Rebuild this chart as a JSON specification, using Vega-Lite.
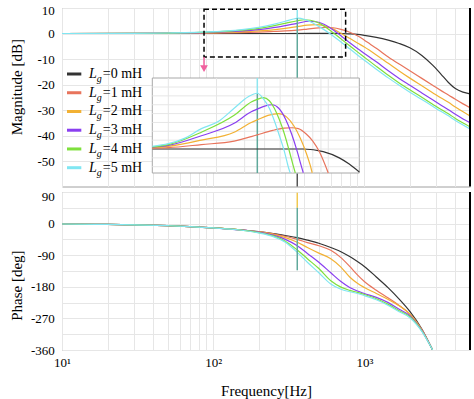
{
"$schema": "https://vega.github.io/schema/vega-lite/v6.json",
"padding": {"left": 8, "top": 4, "right": 2, "bottom": 0},
"config": {
  "font": "Liberation Serif",
  "view": {"stroke": "#a0a0a0"},
  "axis": {"labelFont": "Liberation Serif", "titleFont": "Liberation Serif", "labelFontSize": 13, "titleFontSize": 15, "labelColor": "#000", "titleColor": "#000", "titleFontWeight": "normal", "gridColor": "#e6e6e6", "gridWidth": 1, "labelOverlap": false, "tickCount": 100},
  "text": {"font": "Liberation Serif"}
},
"datasets": {
  "mag": [
    {"Lg":"0","f":10,"v":0},{"Lg":"0","f":100,"v":0},{"Lg":"0","f":300,"v":0},{"Lg":"0","f":500,"v":0.05},{"Lg":"0","f":700,"v":0},{"Lg":"0","f":800,"v":-0.15},{"Lg":"0","f":900,"v":-0.35},{"Lg":"0","f":1000,"v":-0.7},{"Lg":"0","f":1200,"v":-1.5},{"Lg":"0","f":1440,"v":-2.6},{"Lg":"0","f":1700,"v":-3.9},{"Lg":"0","f":2000,"v":-5.6},{"Lg":"0","f":2400,"v":-8.6},{"Lg":"0","f":2830,"v":-12.4},{"Lg":"0","f":3200,"v":-15.8},{"Lg":"0","f":3600,"v":-19.2},{"Lg":"0","f":4000,"v":-21.6},{"Lg":"0","f":4500,"v":-23.0},{"Lg":"0","f":5000,"v":-23.7},
    {"Lg":"1","f":10,"v":0},{"Lg":"1","f":30,"v":0.02},{"Lg":"1","f":50,"v":0.05},{"Lg":"1","f":100,"v":0.18},{"Lg":"1","f":150,"v":0.35},{"Lg":"1","f":200,"v":0.55},{"Lg":"1","f":250,"v":0.78},{"Lg":"1","f":300,"v":1.0},{"Lg":"1","f":360,"v":1.35},{"Lg":"1","f":420,"v":1.75},{"Lg":"1","f":500,"v":2.2},{"Lg":"1","f":560,"v":2.4},{"Lg":"1","f":620,"v":2.25},{"Lg":"1","f":700,"v":1.6},{"Lg":"1","f":800,"v":0.5},{"Lg":"1","f":900,"v":-0.9},{"Lg":"1","f":1000,"v":-2.6},{"Lg":"1","f":1100,"v":-4.3},{"Lg":"1","f":1200,"v":-5.8},{"Lg":"1","f":1440,"v":-9.2},{"Lg":"1","f":1700,"v":-12.0},{"Lg":"1","f":2000,"v":-14.6},{"Lg":"1","f":2400,"v":-17.6},{"Lg":"1","f":2830,"v":-20.3},{"Lg":"1","f":3200,"v":-22.3},{"Lg":"1","f":3600,"v":-24.1},{"Lg":"1","f":4000,"v":-25.8},{"Lg":"1","f":4500,"v":-27.6},{"Lg":"1","f":5000,"v":-29.1},
    {"Lg":"2","f":10,"v":0},{"Lg":"2","f":30,"v":0.03},{"Lg":"2","f":50,"v":0.08},{"Lg":"2","f":100,"v":0.3},{"Lg":"2","f":150,"v":0.6},{"Lg":"2","f":200,"v":1.0},{"Lg":"2","f":250,"v":1.45},{"Lg":"2","f":300,"v":2.0},{"Lg":"2","f":360,"v":2.7},{"Lg":"2","f":420,"v":3.3},{"Lg":"2","f":480,"v":3.5},{"Lg":"2","f":540,"v":3.1},{"Lg":"2","f":600,"v":2.2},{"Lg":"2","f":700,"v":0.1},{"Lg":"2","f":800,"v":-1.9},{"Lg":"2","f":900,"v":-3.7},{"Lg":"2","f":1000,"v":-5.3},{"Lg":"2","f":1200,"v":-8.4},{"Lg":"2","f":1440,"v":-11.7},{"Lg":"2","f":1700,"v":-14.7},{"Lg":"2","f":2000,"v":-17.5},{"Lg":"2","f":2400,"v":-20.5},{"Lg":"2","f":2830,"v":-23.2},{"Lg":"2","f":3200,"v":-25.2},{"Lg":"2","f":3600,"v":-27.0},{"Lg":"2","f":4000,"v":-28.8},{"Lg":"2","f":4500,"v":-30.7},{"Lg":"2","f":5000,"v":-32.3},
    {"Lg":"3","f":10,"v":0},{"Lg":"3","f":30,"v":0.04},{"Lg":"3","f":50,"v":0.12},{"Lg":"3","f":100,"v":0.45},{"Lg":"3","f":150,"v":0.9},{"Lg":"3","f":200,"v":1.5},{"Lg":"3","f":250,"v":2.3},{"Lg":"3","f":300,"v":3.1},{"Lg":"3","f":360,"v":4.0},{"Lg":"3","f":430,"v":4.8},{"Lg":"3","f":480,"v":4.6},{"Lg":"3","f":540,"v":3.6},{"Lg":"3","f":600,"v":2.1},{"Lg":"3","f":700,"v":-0.9},{"Lg":"3","f":800,"v":-3.6},{"Lg":"3","f":900,"v":-5.9},{"Lg":"3","f":1000,"v":-7.8},{"Lg":"3","f":1200,"v":-11.1},{"Lg":"3","f":1440,"v":-14.6},{"Lg":"3","f":1700,"v":-17.6},{"Lg":"3","f":2000,"v":-20.3},{"Lg":"3","f":2400,"v":-23.3},{"Lg":"3","f":2830,"v":-26.0},{"Lg":"3","f":3200,"v":-28.0},{"Lg":"3","f":3600,"v":-29.9},{"Lg":"3","f":4000,"v":-31.7},{"Lg":"3","f":4500,"v":-33.5},{"Lg":"3","f":5000,"v":-35.0},
    {"Lg":"4","f":10,"v":0},{"Lg":"4","f":30,"v":0.05},{"Lg":"4","f":50,"v":0.15},{"Lg":"4","f":100,"v":0.6},{"Lg":"4","f":150,"v":1.2},{"Lg":"4","f":200,"v":2.0},{"Lg":"4","f":250,"v":3.0},{"Lg":"4","f":300,"v":4.0},{"Lg":"4","f":360,"v":5.0},{"Lg":"4","f":400,"v":5.4},{"Lg":"4","f":440,"v":5.2},{"Lg":"4","f":500,"v":4.1},{"Lg":"4","f":600,"v":1.0},{"Lg":"4","f":700,"v":-2.1},{"Lg":"4","f":800,"v":-4.8},{"Lg":"4","f":900,"v":-7.2},{"Lg":"4","f":1000,"v":-9.3},{"Lg":"4","f":1200,"v":-12.9},{"Lg":"4","f":1440,"v":-16.4},{"Lg":"4","f":1700,"v":-19.4},{"Lg":"4","f":2000,"v":-22.1},{"Lg":"4","f":2400,"v":-25.0},{"Lg":"4","f":2830,"v":-27.7},{"Lg":"4","f":3200,"v":-29.7},{"Lg":"4","f":3600,"v":-31.5},{"Lg":"4","f":4000,"v":-33.3},{"Lg":"4","f":4500,"v":-35.1},{"Lg":"4","f":5000,"v":-36.6},
    {"Lg":"5","f":10,"v":0},{"Lg":"5","f":30,"v":0.06},{"Lg":"5","f":50,"v":0.2},{"Lg":"5","f":100,"v":0.7},{"Lg":"5","f":150,"v":1.4},{"Lg":"5","f":200,"v":2.4},{"Lg":"5","f":250,"v":3.6},{"Lg":"5","f":300,"v":4.8},{"Lg":"5","f":340,"v":5.7},{"Lg":"5","f":363,"v":6.0},{"Lg":"5","f":400,"v":5.6},{"Lg":"5","f":450,"v":4.3},{"Lg":"5","f":500,"v":2.8},{"Lg":"5","f":600,"v":-0.3},{"Lg":"5","f":700,"v":-3.3},{"Lg":"5","f":800,"v":-6.0},{"Lg":"5","f":900,"v":-8.4},{"Lg":"5","f":1000,"v":-10.5},{"Lg":"5","f":1200,"v":-14.0},{"Lg":"5","f":1440,"v":-17.4},{"Lg":"5","f":1700,"v":-20.3},{"Lg":"5","f":2000,"v":-23.0},{"Lg":"5","f":2400,"v":-25.9},{"Lg":"5","f":2830,"v":-28.5},{"Lg":"5","f":3200,"v":-30.5},{"Lg":"5","f":3600,"v":-32.3},{"Lg":"5","f":4000,"v":-34.1},{"Lg":"5","f":4500,"v":-35.9},{"Lg":"5","f":5000,"v":-37.4}
  ],
  "phase": [
    {"Lg":"0","f":10,"v":-1.2},{"Lg":"0","f":20,"v":-2.4},{"Lg":"0","f":30,"v":-3.6},{"Lg":"0","f":50,"v":-6},{"Lg":"0","f":70,"v":-8.5},{"Lg":"0","f":100,"v":-12},{"Lg":"0","f":150,"v":-17.5},{"Lg":"0","f":200,"v":-23},{"Lg":"0","f":250,"v":-28.5},{"Lg":"0","f":300,"v":-34},{"Lg":"0","f":360,"v":-40},{"Lg":"0","f":420,"v":-47},{"Lg":"0","f":500,"v":-56},{"Lg":"0","f":600,"v":-68},{"Lg":"0","f":700,"v":-80},{"Lg":"0","f":800,"v":-94},{"Lg":"0","f":900,"v":-108},{"Lg":"0","f":1000,"v":-122},{"Lg":"0","f":1200,"v":-152},{"Lg":"0","f":1440,"v":-183},{"Lg":"0","f":1700,"v":-215},{"Lg":"0","f":2000,"v":-250},{"Lg":"0","f":2400,"v":-300},{"Lg":"0","f":2830,"v":-360},
    {"Lg":"1","f":10,"v":-1.2},{"Lg":"1","f":20,"v":-2.4},{"Lg":"1","f":30,"v":-3.6},{"Lg":"1","f":50,"v":-6},{"Lg":"1","f":70,"v":-8.5},{"Lg":"1","f":100,"v":-12},{"Lg":"1","f":150,"v":-17.5},{"Lg":"1","f":200,"v":-23.2},{"Lg":"1","f":250,"v":-29},{"Lg":"1","f":300,"v":-36},{"Lg":"1","f":360,"v":-45},{"Lg":"1","f":420,"v":-54},{"Lg":"1","f":500,"v":-63},{"Lg":"1","f":600,"v":-76},{"Lg":"1","f":700,"v":-97},{"Lg":"1","f":800,"v":-122},{"Lg":"1","f":900,"v":-146},{"Lg":"1","f":1000,"v":-165},{"Lg":"1","f":1200,"v":-190},{"Lg":"1","f":1440,"v":-212},{"Lg":"1","f":1700,"v":-233},{"Lg":"1","f":2000,"v":-258},{"Lg":"1","f":2400,"v":-302},{"Lg":"1","f":2830,"v":-360},
    {"Lg":"2","f":10,"v":-1.2},{"Lg":"2","f":20,"v":-2.4},{"Lg":"2","f":30,"v":-3.6},{"Lg":"2","f":50,"v":-6},{"Lg":"2","f":70,"v":-8.5},{"Lg":"2","f":100,"v":-12},{"Lg":"2","f":150,"v":-17.6},{"Lg":"2","f":200,"v":-23.6},{"Lg":"2","f":250,"v":-30.5},{"Lg":"2","f":300,"v":-40},{"Lg":"2","f":360,"v":-53},{"Lg":"2","f":420,"v":-68},{"Lg":"2","f":500,"v":-84},{"Lg":"2","f":600,"v":-100},{"Lg":"2","f":700,"v":-124},{"Lg":"2","f":800,"v":-152},{"Lg":"2","f":900,"v":-170},{"Lg":"2","f":1000,"v":-182},{"Lg":"2","f":1200,"v":-199},{"Lg":"2","f":1440,"v":-216},{"Lg":"2","f":1700,"v":-234},{"Lg":"2","f":2000,"v":-257},{"Lg":"2","f":2400,"v":-303},{"Lg":"2","f":2830,"v":-360},
    {"Lg":"3","f":10,"v":-1.2},{"Lg":"3","f":20,"v":-2.4},{"Lg":"3","f":30,"v":-3.6},{"Lg":"3","f":50,"v":-6},{"Lg":"3","f":70,"v":-8.5},{"Lg":"3","f":100,"v":-12.1},{"Lg":"3","f":150,"v":-17.8},{"Lg":"3","f":200,"v":-24.5},{"Lg":"3","f":250,"v":-33},{"Lg":"3","f":300,"v":-45},{"Lg":"3","f":360,"v":-63},{"Lg":"3","f":420,"v":-85},{"Lg":"3","f":500,"v":-110},{"Lg":"3","f":600,"v":-140},{"Lg":"3","f":700,"v":-165},{"Lg":"3","f":800,"v":-182},{"Lg":"3","f":900,"v":-192},{"Lg":"3","f":1000,"v":-199},{"Lg":"3","f":1200,"v":-210},{"Lg":"3","f":1440,"v":-225},{"Lg":"3","f":1700,"v":-244},{"Lg":"3","f":2000,"v":-262},{"Lg":"3","f":2400,"v":-305},{"Lg":"3","f":2830,"v":-360},
    {"Lg":"4","f":10,"v":-1.2},{"Lg":"4","f":20,"v":-2.4},{"Lg":"4","f":30,"v":-3.6},{"Lg":"4","f":50,"v":-6},{"Lg":"4","f":70,"v":-8.5},{"Lg":"4","f":100,"v":-12.2},{"Lg":"4","f":150,"v":-18},{"Lg":"4","f":200,"v":-25.5},{"Lg":"4","f":250,"v":-35},{"Lg":"4","f":300,"v":-50},{"Lg":"4","f":360,"v":-75},{"Lg":"4","f":420,"v":-100},{"Lg":"4","f":500,"v":-128},{"Lg":"4","f":600,"v":-163},{"Lg":"4","f":700,"v":-181},{"Lg":"4","f":800,"v":-190},{"Lg":"4","f":900,"v":-196},{"Lg":"4","f":1000,"v":-202},{"Lg":"4","f":1200,"v":-214},{"Lg":"4","f":1440,"v":-230},{"Lg":"4","f":1700,"v":-248},{"Lg":"4","f":2000,"v":-265},{"Lg":"4","f":2400,"v":-306},{"Lg":"4","f":2830,"v":-360},
    {"Lg":"5","f":10,"v":-1.2},{"Lg":"5","f":20,"v":-2.4},{"Lg":"5","f":30,"v":-3.6},{"Lg":"5","f":50,"v":-6},{"Lg":"5","f":70,"v":-8.5},{"Lg":"5","f":100,"v":-12.3},{"Lg":"5","f":150,"v":-18.2},{"Lg":"5","f":200,"v":-26.5},{"Lg":"5","f":250,"v":-37},{"Lg":"5","f":300,"v":-53},{"Lg":"5","f":360,"v":-82},{"Lg":"5","f":420,"v":-110},{"Lg":"5","f":500,"v":-140},{"Lg":"5","f":600,"v":-172},{"Lg":"5","f":700,"v":-187},{"Lg":"5","f":800,"v":-194},{"Lg":"5","f":900,"v":-199},{"Lg":"5","f":1000,"v":-205},{"Lg":"5","f":1200,"v":-217},{"Lg":"5","f":1440,"v":-233},{"Lg":"5","f":1700,"v":-251},{"Lg":"5","f":2000,"v":-268},{"Lg":"5","f":2400,"v":-307},{"Lg":"5","f":2830,"v":-360}
  ],
  "inset": [
    {"Lg":"0","f":79.4,"v":0},{"Lg":"0","f":300,"v":0},{"Lg":"0","f":700,"v":0},{"Lg":"0","f":930,"v":-0.3},{"Lg":"0","f":1172,"v":-1.0},{"Lg":"0","f":1352,"v":-1.7},{"Lg":"0","f":1563,"v":-2.6},
    {"Lg":"1","f":79.4,"v":0.1},{"Lg":"1","f":100,"v":0.15},{"Lg":"1","f":161,"v":0.5},{"Lg":"1","f":258,"v":0.9},{"Lg":"1","f":330,"v":1.4},{"Lg":"1","f":360,"v":1.6},{"Lg":"1","f":450,"v":2.1},{"Lg":"1","f":530,"v":2.35},{"Lg":"1","f":595,"v":2.4},{"Lg":"1","f":650,"v":2.3},{"Lg":"1","f":728,"v":1.7},{"Lg":"1","f":800,"v":0.9},{"Lg":"1","f":880,"v":-0.3},{"Lg":"1","f":1000,"v":-2.7},
    {"Lg":"2","f":79.4,"v":0.15},{"Lg":"2","f":100,"v":0.3},{"Lg":"2","f":161,"v":1.0},{"Lg":"2","f":258,"v":1.9},{"Lg":"2","f":330,"v":3.0},{"Lg":"2","f":360,"v":3.3},{"Lg":"2","f":420,"v":3.8},{"Lg":"2","f":490,"v":4.0},{"Lg":"2","f":550,"v":3.6},{"Lg":"2","f":610,"v":2.6},{"Lg":"2","f":670,"v":1.2},{"Lg":"2","f":730,"v":-0.5},{"Lg":"2","f":770,"v":-1.8},{"Lg":"2","f":794,"v":-2.7},
    {"Lg":"3","f":79.4,"v":0.2},{"Lg":"3","f":100,"v":0.4},{"Lg":"3","f":161,"v":1.5},{"Lg":"3","f":258,"v":2.9},{"Lg":"3","f":330,"v":4.2},{"Lg":"3","f":360,"v":4.5},{"Lg":"3","f":400,"v":4.85},{"Lg":"3","f":447,"v":5.0},{"Lg":"3","f":490,"v":4.6},{"Lg":"3","f":540,"v":3.4},{"Lg":"3","f":590,"v":1.7},{"Lg":"3","f":640,"v":-0.3},{"Lg":"3","f":675,"v":-1.8},{"Lg":"3","f":698,"v":-2.7},
    {"Lg":"4","f":79.4,"v":0.25},{"Lg":"4","f":100,"v":0.5},{"Lg":"4","f":161,"v":1.9},{"Lg":"4","f":258,"v":3.8},{"Lg":"4","f":330,"v":5.3},{"Lg":"4","f":360,"v":5.6},{"Lg":"4","f":392,"v":5.8},{"Lg":"4","f":428,"v":5.45},{"Lg":"4","f":460,"v":4.6},{"Lg":"4","f":495,"v":3.3},{"Lg":"4","f":532,"v":1.7},{"Lg":"4","f":570,"v":-0.2},{"Lg":"4","f":600,"v":-1.7},{"Lg":"4","f":622,"v":-2.7},
    {"Lg":"5","f":79.4,"v":0.3},{"Lg":"5","f":100,"v":0.6},{"Lg":"5","f":126,"v":1.2},{"Lg":"5","f":161,"v":2.3},{"Lg":"5","f":205,"v":3.1},{"Lg":"5","f":258,"v":4.6},{"Lg":"5","f":316,"v":5.9},{"Lg":"5","f":360,"v":6.3},{"Lg":"5","f":392,"v":5.7},{"Lg":"5","f":428,"v":4.6},{"Lg":"5","f":460,"v":3.2},{"Lg":"5","f":495,"v":1.5},{"Lg":"5","f":532,"v":-0.3},{"Lg":"5","f":562,"v":-2.0},{"Lg":"5","f":578,"v":-2.7}
  ],
  "vmain": [{"f":360,"a":9.3,"b":6.0,"s":"top"},{"f":360,"a":6.0,"b":-55,"s":"mid"},{"f":360,"a":-55,"b":-60,"s":"low"}],
  "vinset": [{"f":360,"a":8.02,"b":6.3,"s":"top"},{"f":360,"a":6.3,"b":-2.71,"s":"mid"}],
  "vphase": [{"f":360,"a":88,"b":45,"s":"ptop"},{"f":360,"a":45,"b":-133,"s":"mid"}],
  "igx": [{"g":100},{"g":200},{"g":300},{"g":400},{"g":500},{"g":600},{"g":700},{"g":800},{"g":900},{"g":1000}],
  "igy": [{"g":-2},{"g":-1},{"g":0},{"g":1},{"g":2},{"g":3},{"g":4},{"g":5},{"g":6},{"g":7}],
  "legend": [{"Lg":"0","txt":"=0 mH"},{"Lg":"1","txt":"=1 mH"},{"Lg":"2","txt":"=2 mH"},{"Lg":"3","txt":"=3 mH"},{"Lg":"4","txt":"=4 mH"},{"Lg":"5","txt":"=5 mH"}]
},
"spacing": 1,
"vconcat": [
 {
  "width": 408, "height": 178.5,
  "resolve": {"scale": {"x": "independent", "y": "independent"}},
  "layer": [
   {"layer": [
     {"data": {"name": "mag"}, "mark": {"type": "line", "interpolate": "monotone", "strokeWidth": 1.2, "clip": true},
      "encoding": {
        "x": {"field": "f", "type": "quantitative", "scale": {"type": "log", "domain": [10, 5000], "nice": false},
              "axis": {"values": [10,20,30,40,50,60,70,80,90,100,200,300,400,500,600,700,800,900,1000,2000,3000,4000,5000], "tickCount": 100, "labels": false, "ticks": false, "domain": false, "title": null, "grid": true}},
        "y": {"field": "v", "type": "quantitative", "scale": {"domain": [-60, 10], "nice": false, "zero": false},
              "axis": {"values": [-50,-40,-30,-20,-10,0,10], "tickCount": 100, "title": "Magnitude [dB]", "titleX": -38, "titleY": 78.7, "labelExpr": "'' + datum.value", "labelOffset": {"condition": {"test": "datum.value == 10", "value": 2.5}, "value": 0}, "labelPadding": 7.7, "labelOverlap": false, "ticks": false, "domain": false, "grid": true}},
        "color": {"field": "Lg", "type": "nominal", "scale": {"domain": ["0","1","2","3","4","5"], "range": ["#333333","#e8745c","#f2b134","#8a3ff0","#7ee03c","#80e6f2"]}, "legend": null}
      }},
     {"data": {"name": "vmain"}, "mark": {"type": "rule", "strokeWidth": 1.5},
      "encoding": {
        "x": {"field": "f", "type": "quantitative", "scale": {"type": "log", "domain": [10, 5000], "nice": false}},
        "y": {"field": "a", "type": "quantitative", "scale": {"domain": [-60, 10], "nice": false, "zero": false}},
        "y2": {"field": "b"},
        "stroke": {"field": "s", "type": "nominal", "scale": {"domain": ["top","mid","low","ptop"], "range": ["#8ee6ef","#5fa99b","#555555","#f0c850"]}, "legend": null}
      }},
     {"data": {"values": [{}]}, "mark": {"type": "rect", "filled": false, "color": "#000", "strokeWidth": 1.5, "strokeDash": [5, 3]},
      "encoding": {
        "x": {"datum": 87, "type": "quantitative", "scale": {"type": "log", "domain": [10, 5000], "nice": false}},
        "x2": {"datum": 752},
        "y": {"datum": -9.2, "type": "quantitative", "scale": {"domain": [-60, 10], "nice": false, "zero": false}},
        "y2": {"datum": 9.5}
      }},
     {"data": {"values": [{}]}, "mark": {"type": "rule", "color": "#f0609e", "strokeWidth": 1.5},
      "encoding": {
        "x": {"datum": 87, "type": "quantitative", "scale": {"type": "log", "domain": [10, 5000], "nice": false}},
        "y": {"datum": -9.2, "type": "quantitative", "scale": {"domain": [-60, 10], "nice": false, "zero": false}},
        "y2": {"datum": -12.8}
      }},
     {"data": {"values": [{}]}, "mark": {"type": "point", "shape": "triangle-down", "filled": true, "size": 60, "color": "#f0609e", "opacity": 1},
      "encoding": {
        "x": {"datum": 87, "type": "quantitative", "scale": {"type": "log", "domain": [10, 5000], "nice": false}},
        "y": {"datum": -13.8, "type": "quantitative", "scale": {"domain": [-60, 10], "nice": false, "zero": false}}
      }},
     {"data": {"values": [{}]}, "mark": {"type": "rule", "color": "#000", "strokeWidth": 2},
      "encoding": {
        "x": {"datum": 5000, "type": "quantitative", "scale": {"type": "log", "domain": [10, 5000], "nice": false}}
      }}
   ]},
   {"layer": [
     {"data": {"values": [{}]}, "mark": {"type": "rect", "fill": "#ffffff", "stroke": "#a8a8a8", "strokeWidth": 1},
      "encoding": {
        "x": {"datum": 79.4, "type": "quantitative", "scale": {"type": "log", "domain": [79.4, 1563], "range": [90.3, 297.3], "nice": false}, "axis": null},
        "x2": {"datum": 1563},
        "y": {"datum": -2.71, "type": "quantitative", "scale": {"domain": [-2.71, 8.02], "range": [165, 70], "nice": false, "zero": false}, "axis": null},
        "y2": {"datum": 8.02}
      }},
     {"data": {"name": "igx"}, "mark": {"type": "rule", "color": "#e6e6e6", "strokeWidth": 1},
      "encoding": {
        "x": {"field": "g", "type": "quantitative", "scale": {"type": "log", "domain": [79.4, 1563], "range": [90.3, 297.3], "nice": false}, "axis": null},
        "y": {"datum": -2.71, "type": "quantitative", "scale": {"domain": [-2.71, 8.02], "range": [165, 70], "nice": false, "zero": false}, "axis": null},
        "y2": {"datum": 8.02}
      }},
     {"data": {"name": "igy"}, "mark": {"type": "rule", "color": "#e6e6e6", "strokeWidth": 1},
      "encoding": {
        "x": {"datum": 79.4, "type": "quantitative", "scale": {"type": "log", "domain": [79.4, 1563], "range": [90.3, 297.3], "nice": false}, "axis": null},
        "x2": {"datum": 1563},
        "y": {"field": "g", "type": "quantitative", "scale": {"domain": [-2.71, 8.02], "range": [165, 70], "nice": false, "zero": false}, "axis": null}
      }},
     {"data": {"name": "vinset"}, "mark": {"type": "rule", "strokeWidth": 1.5},
      "encoding": {
        "x": {"field": "f", "type": "quantitative", "scale": {"type": "log", "domain": [79.4, 1563], "range": [90.3, 297.3], "nice": false}, "axis": null},
        "y": {"field": "a", "type": "quantitative", "scale": {"domain": [-2.71, 8.02], "range": [165, 70], "nice": false, "zero": false}, "axis": null},
        "y2": {"field": "b"},
        "stroke": {"field": "s", "type": "nominal", "scale": {"domain": ["top","mid","low","ptop"], "range": ["#8ee6ef","#5fa99b","#555555","#f0c850"]}, "legend": null}
      }},
     {"data": {"name": "inset"}, "mark": {"type": "line", "interpolate": "monotone", "strokeWidth": 1.2},
      "encoding": {
        "x": {"field": "f", "type": "quantitative", "scale": {"type": "log", "domain": [79.4, 1563], "range": [90.3, 297.3], "nice": false}, "axis": null},
        "y": {"field": "v", "type": "quantitative", "scale": {"domain": [-2.71, 8.02], "range": [165, 70], "nice": false, "zero": false}, "axis": null},
        "color": {"field": "Lg", "type": "nominal", "scale": {"domain": ["0","1","2","3","4","5"], "range": ["#333333","#e8745c","#f2b134","#8a3ff0","#7ee03c","#80e6f2"]}, "legend": null}
      }}
   ]},
   {"layer": [
     {"data": {"name": "legend"}, "mark": {"type": "rule", "strokeWidth": 3},
      "encoding": {
        "x": {"datum": 10.79, "type": "quantitative", "scale": {"type": "log", "domain": [10, 5000], "nice": false}, "axis": null},
        "x2": {"datum": 13.42},
        "y": {"field": "Lg", "type": "ordinal", "scale": {"type": "point", "domain": ["0","1","2","3","4","5"], "range": [66, 159.7], "padding": 0}, "axis": null},
        "color": {"field": "Lg", "type": "nominal", "scale": {"domain": ["0","1","2","3","4","5"], "range": ["#333333","#e8745c","#f2b134","#8a3ff0","#7ee03c","#80e6f2"]}, "legend": null}
      }},
     {"data": {"name": "legend"}, "mark": {"type": "text", "text": "L", "fontStyle": "italic", "fontSize": 14, "align": "left", "baseline": "middle", "color": "#000"},
      "encoding": {
        "x": {"datum": 15.09, "type": "quantitative", "scale": {"type": "log", "domain": [10, 5000], "nice": false}, "axis": null},
        "y": {"field": "Lg", "type": "ordinal", "scale": {"type": "point", "domain": ["0","1","2","3","4","5"], "range": [66, 159.7], "padding": 0}, "axis": null}
      }},
     {"data": {"name": "legend"}, "mark": {"type": "text", "text": "g", "fontStyle": "italic", "fontSize": 10, "align": "left", "baseline": "middle", "dx": 7.8, "dy": 5, "color": "#000"},
      "encoding": {
        "x": {"datum": 15.09, "type": "quantitative", "scale": {"type": "log", "domain": [10, 5000], "nice": false}, "axis": null},
        "y": {"field": "Lg", "type": "ordinal", "scale": {"type": "point", "domain": ["0","1","2","3","4","5"], "range": [66, 159.7], "padding": 0}, "axis": null}
      }},
     {"data": {"name": "legend"}, "mark": {"type": "text", "fontSize": 14, "align": "left", "baseline": "middle", "dx": 13.8, "color": "#000"},
      "encoding": {
        "x": {"datum": 15.09, "type": "quantitative", "scale": {"type": "log", "domain": [10, 5000], "nice": false}, "axis": null},
        "y": {"field": "Lg", "type": "ordinal", "scale": {"type": "point", "domain": ["0","1","2","3","4","5"], "range": [66, 159.7], "padding": 0}, "axis": null},
        "text": {"field": "txt"}
      }}
   ]}
  ]
 },
 {
  "width": 408, "height": 158,
  "layer": [
    {"data": {"name": "phase"}, "mark": {"type": "line", "interpolate": "monotone", "strokeWidth": 1.2, "clip": true},
     "encoding": {
       "x": {"field": "f", "type": "quantitative", "scale": {"type": "log", "domain": [10, 5000], "nice": false},
             "axis": {"values": [10,20,30,40,50,60,70,80,90,100,200,300,400,500,600,700,800,900,1000,2000,3000,4000,5000], "tickCount": 100, "labelExpr": "datum.value == 10 ? '10¹' : datum.value == 100 ? '10²' : datum.value == 1000 ? '10³' : ''", "labelFlush": false, "labelOverlap": false, "labelPadding": 6, "ticks": false, "domain": false, "title": "Frequency[Hz]", "titlePadding": 14, "grid": true}},
       "y": {"field": "v", "type": "quantitative", "scale": {"domain": [-360, 90], "nice": false, "zero": false},
             "axis": {"values": [-360,-315,-270,-225,-180,-135,-90,-45,0,45,90], "tickCount": 100, "title": "Phase [deg]", "titleX": -38, "titleY": 93.1, "labelExpr": "datum.value % 90 == 0 ? '' + datum.value : ''", "labelOffset": {"condition": {"test": "datum.value == 90", "value": 4.3}, "value": 0}, "labelPadding": 7.7, "labelOverlap": false, "ticks": false, "domain": false, "grid": true}},
       "color": {"field": "Lg", "type": "nominal", "scale": {"domain": ["0","1","2","3","4","5"], "range": ["#333333","#e8745c","#f2b134","#8a3ff0","#7ee03c","#80e6f2"]}, "legend": null}
     }},
    {"data": {"name": "vphase"}, "mark": {"type": "rule", "strokeWidth": 1.5},
     "encoding": {
       "x": {"field": "f", "type": "quantitative", "scale": {"type": "log", "domain": [10, 5000], "nice": false}},
       "y": {"field": "a", "type": "quantitative", "scale": {"domain": [-360, 90], "nice": false, "zero": false}},
       "y2": {"field": "b"},
       "stroke": {"field": "s", "type": "nominal", "scale": {"domain": ["top","mid","low","ptop"], "range": ["#8ee6ef","#5fa99b","#555555","#f0c850"]}, "legend": null}
     }},
    {"data": {"values": [{}]}, "mark": {"type": "rule", "color": "#000", "strokeWidth": 2},
     "encoding": {
       "x": {"datum": 5000, "type": "quantitative", "scale": {"type": "log", "domain": [10, 5000], "nice": false}}
     }}
  ]
 }
]
}
